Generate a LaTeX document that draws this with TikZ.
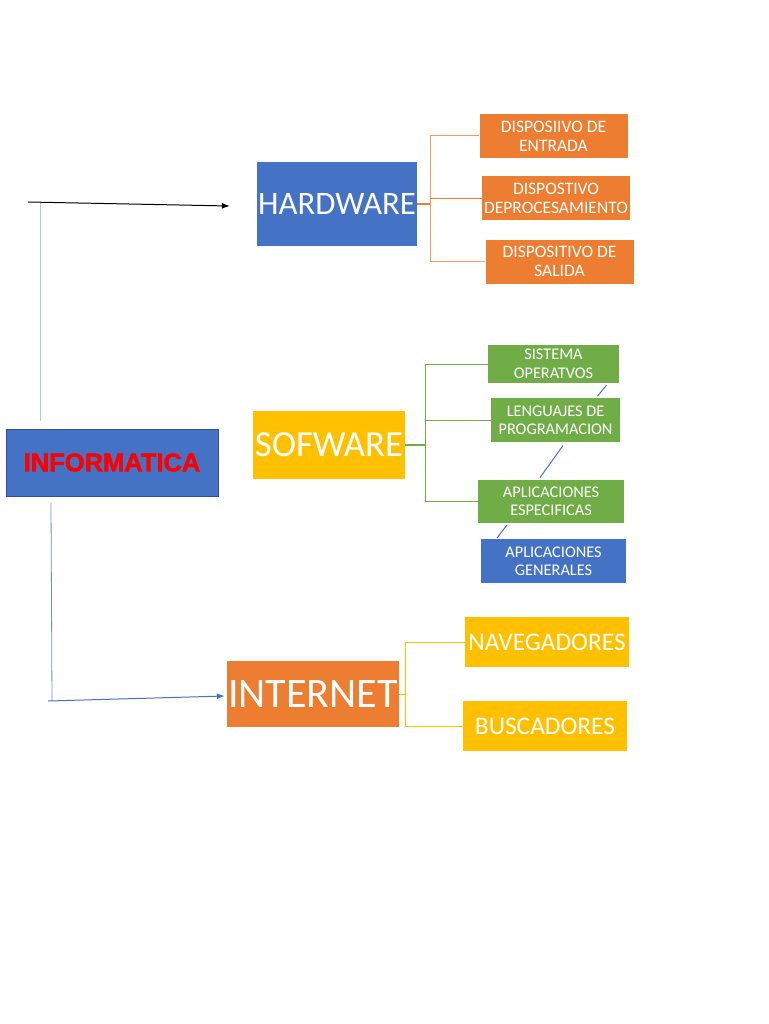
\documentclass[tikz,border=0pt]{standalone}
\usepackage{fontspec}
\setmainfont{Carlito}
\newfontfamily\infofont{Liberation Sans}[BoldFeatures={FakeBold=2}]
\usetikzlibrary{positioning,arrows.meta}
\definecolor{ifblue}{HTML}{4472C4}
\definecolor{ifdark}{HTML}{2F528F}
\definecolor{iforange}{HTML}{ED7D31}
\definecolor{ifyellow}{HTML}{FFC000}
\definecolor{ifgreen}{HTML}{70AD47}
\definecolor{ifred}{HTML}{FF0000}
\definecolor{iflight}{HTML}{B4C7E7}
\newcommand{\fsz}[2]{\fontsize{#1}{#2}\selectfont}

\begin{document}
\begin{tikzpicture}[x=1pt,y=-1pt,>=Latex,text=white]
  \tikzstyle{box}=[align=center,inner sep=0pt]
  \tikzstyle{big}=[box,font=\fsz{32.8}{38}]
  \tikzstyle{small}=[box,font=\fsz{17.5}{19}]
  \tikzstyle{tiny}=[box,font=\fsz{16.3}{18.5}]
  \tikzstyle{hwkid}=[small,fill=iforange,minimum width=148pt,minimum height=44pt]
  \tikzstyle{swkid}=[tiny,fill=ifgreen,minimum height=44pt]
  \tikzstyle{inkid}=[box,fill=ifyellow,font=\fsz{25.4}{28},minimum width=164pt,minimum height=50pt]
  \useasboundingbox (0,0) rectangle (768,1024);
  % main topic
  \node[box,fill=ifblue,draw=ifdark,minimum width=212pt,minimum height=67pt,
        font=\infofont\bfseries\fsz{25.5}{28},text=ifred] (info) at (112,462.5) {INFORMATICA};
  % hardware, children to the right
  \node[big,fill=ifblue,minimum width=160pt,minimum height=84pt] (hw) at (337,204) {HARDWARE};
  \node[hwkid] (e1) at (553.5,136) {DISPOSIIVO DE\\ENTRADA};
  \node[below=18pt of e1,hwkid,xshift=2.5pt] (e2) {DISPOSTIVO\\DEPROCESAMIENTO};
  \node[below=19pt of e2,hwkid,xshift=3.5pt] (e3) {DISPOSITIVO DE\\SALIDA};
  % sofware, children to the right
  \node[big,fill=ifyellow,minimum width=152pt,minimum height=68pt,font=\fsz{36.7}{40}] (sw) at (329,445) {SOFWARE};
  \node[swkid,minimum width=131pt,minimum height=38pt] (s1) at (553.5,364) {SISTEMA\\OPERATVOS};
  \node[below=15pt of s1,swkid,minimum width=129pt,xshift=2pt] (s2) {LENGUAJES DE\\PROGRAMACION};
  \node[below=37pt of s2,swkid,minimum width=146pt,minimum height=43pt,xshift=-4.5pt] (s3) {APLICACIONES\\ESPECIFICAS};
  \node[below=16pt of s3,swkid,fill=ifblue,minimum width=145pt,xshift=2.5pt] (s4) {APLICACIONES\\GENERALES};
  % internet, children to the right
  \node[box,fill=iforange,minimum width=172pt,minimum height=66pt,font=\fsz{42}{46}] (in) at (313,694) {INTERNET};
  \node[inkid] (n1) at (547,642) {NAVEGADORES};
  \node[below=34pt of n1,inkid,xshift=-2pt] (n2) {BUSCADORES};
  % junctions
  \coordinate[right=13pt of hw.east] (hwj);
  \coordinate[right=20pt of sw.east] (swj);
  \coordinate[right=6pt of in.east] (inj);
  % hardware tree
  \draw[iforange,line width=2pt] (hw.east) -- (hwj);
  \draw[iforange!75,line width=1pt] (e1.west) -| (hwj) |- (e3.west);
  \draw[iforange,line width=1.5pt] (hwj |- e2.west) -- (e2.west);
  % sofware tree
  \draw[ifgreen,line width=2pt] (sw.east) -- (swj);
  \draw[ifgreen,line width=1pt] (s1.west) -| (swj) |- (s3.west);
  \draw[ifgreen,line width=1pt] (swj |- s2.west) -- (s2.west);
  \draw[ifblue,line width=1pt] ([xshift=53pt,yshift=-2pt]s1.south) -- ([xshift=42pt,yshift=2pt]s2.north);
  \draw[ifblue,line width=1pt] ([xshift=7.5pt,yshift=-3pt]s2.south) -- ([xshift=-11pt,yshift=2pt]s3.north);
  \draw[ifblue,line width=1pt] ([xshift=-44pt,yshift=-2pt]s3.south) -- ([xshift=-56.5pt,yshift=1pt]s4.north);
  % internet tree
  \draw[ifyellow,line width=1pt] (in.east) -- (inj);
  \draw[ifyellow,line width=1pt] (n1.west) -| (inj) |- (n2.west);
  % left side lines
  \coordinate (top) at (28,202);
  \coordinate (topv) at (40,203);
  \coordinate (low) at (48,701);
  \draw[->,line width=1pt,-{Latex[length=8pt,width=6pt]}] (top) -- ([xshift=-27pt,yshift=-2pt]hw.west);
  \draw[iflight,line width=1pt] (topv) -- ([xshift=-72pt,yshift=8pt]info.north);
  \draw[ifblue!80,line width=0.8pt] ([xshift=-61pt,yshift=-7pt]info.south) -- ([xshift=4pt]low);
  \draw[ifblue,line width=1pt,-{Latex[length=8pt,width=6pt]}] (low) -- ([xshift=-2pt,yshift=-2pt]in.west);
\end{tikzpicture}
\end{document}
